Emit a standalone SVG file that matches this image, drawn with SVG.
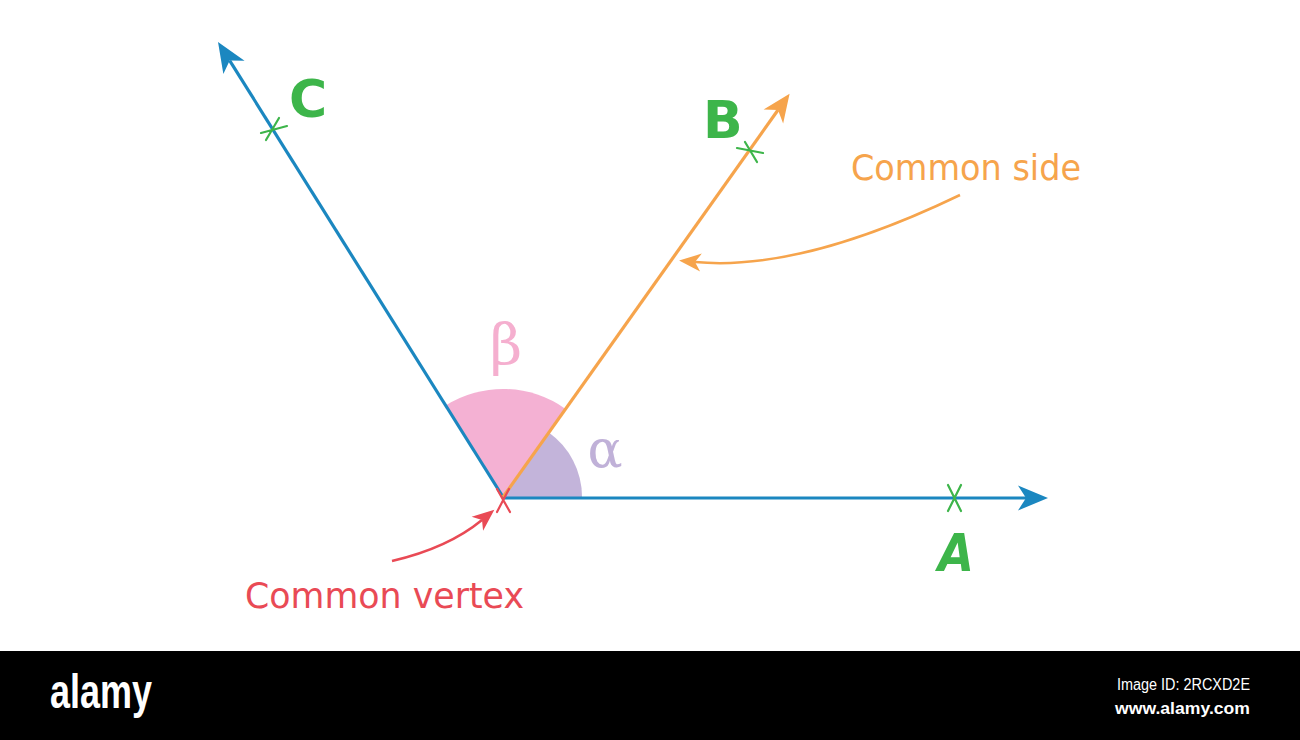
<svg xmlns="http://www.w3.org/2000/svg" width="1300" height="740" viewBox="0 0 1300 740">
<style>
.ray{fill:none;stroke-width:3.2;stroke-linecap:butt}
.blue{stroke:#1b87c0}
.orange{stroke:#f6a44c}
.tick{stroke:#3db54a;stroke-width:2.2;stroke-linecap:round;fill:none}
.pt{font-family:"DejaVu Sans","Noto Sans",sans-serif;font-weight:bold;fill:#3db54a}
.callout{font-family:"DejaVu Sans","Noto Sans",sans-serif}
.greek{font-family:"DejaVu Serif","Liberation Serif",serif}
</style>
<defs>
<marker id="ahBlue" markerUnits="userSpaceOnUse" markerWidth="32" markerHeight="28" viewBox="0 -13 32 26" refX="8" refY="0" orient="auto">
<path d="M0,-12.5 L30,0 L0,12.5 L8,0 z" fill="#1b87c0"/>
</marker>
<marker id="ahOrange" markerUnits="userSpaceOnUse" markerWidth="32" markerHeight="28" viewBox="0 -13 32 26" refX="8" refY="0" orient="auto">
<path d="M0,-12 L28,0 L0,12 L8,0 z" fill="#f6a44c"/>
</marker>
<marker id="ahOrangeS" markerUnits="userSpaceOnUse" markerWidth="26" markerHeight="22" viewBox="0 -10 26 20" refX="6" refY="0" orient="auto">
<path d="M0,-9 L22,0 L0,9 L6,0 z" fill="#f6a44c"/>
</marker>
<marker id="ahRed" markerUnits="userSpaceOnUse" markerWidth="26" markerHeight="22" viewBox="0 -10 26 20" refX="6" refY="0" orient="auto">
<path d="M0,-9 L22,0 L0,9 L6,0 z" fill="#e94a55"/>
</marker>
</defs>
<rect x="0" y="0" width="1300" height="740" fill="#ffffff"/>

<g id="angles">
<path id="beta-sector" d="M503,497 L565.6,408.9 A108,108 0 0 0 445.6,405.5 Z" fill="#f4b1d3"/>
<path id="alpha-sector" d="M503,497 L582,497 A79,79 0 0 0 548.8,432.6 Z" fill="#c3b4da"/>
</g>

<g id="connectors">
<line id="ray-A" class="ray blue" x1="503" y1="498" x2="1026" y2="498" marker-end="url(#ahBlue)"/>
<line id="ray-C" class="ray blue" x1="503" y1="497" x2="229.7" y2="60.6" marker-end="url(#ahBlue)"/>
<line id="ray-B" class="ray orange" x1="503" y1="497" x2="778" y2="110" marker-end="url(#ahOrange)"/>
<path id="side-callout" d="M960,195 Q800,272 695,262" fill="none" stroke="#f6a44c" stroke-width="2.5" marker-end="url(#ahOrangeS)"/>
<path id="vertex-callout" d="M392,561 Q448,548 482,520" fill="none" stroke="#e94a55" stroke-width="2.5" marker-end="url(#ahRed)"/>
</g>

<g id="vertex">
<path d="M497,489 L510,512 M509,489 L497,512" stroke="#e94a55" stroke-width="2.2" fill="none" stroke-linecap="round"/>
</g>

<g id="point-C">
<path class="tick" d="M261,133 L287,126 M279,118 L266,140"/>
<text class="pt" x="289" y="117" font-size="52">C</text>
</g>
<g id="point-B">
<path class="tick" d="M737,148 L763,153 M745,142 L757,162"/>
<text class="pt" x="703" y="138" font-size="52">B</text>
</g>
<g id="point-A">
<path class="tick" d="M948,485 L961,511 M961,485 L948,511"/>
<text class="pt" x="938" y="571" font-size="52" font-style="italic" textLength="36" lengthAdjust="spacingAndGlyphs">A</text>
</g>

<g id="label-beta">
<text class="greek" x="506" y="364" font-size="56" fill="#f5afcf" text-anchor="middle">β</text>
</g>
<g id="label-alpha">
<text class="greek" x="605" y="467" font-size="52" fill="#c0b1d8" text-anchor="middle">α</text>
</g>

<g id="label-common-side">
<text class="callout" x="851" y="180" font-size="36" fill="#f6a44c" textLength="230" lengthAdjust="spacingAndGlyphs">Common side</text>
</g>
<g id="label-common-vertex">
<text class="callout" x="245" y="608" font-size="36" fill="#e94a55" textLength="279" lengthAdjust="spacingAndGlyphs">Common vertex</text>
</g>

<g id="footer">
<rect x="0" y="651" width="1300" height="89" fill="#000000"/>
<text x="50" y="708" font-family="Liberation Sans, Arial, sans-serif" font-weight="bold" font-size="48" fill="#ffffff" textLength="102" lengthAdjust="spacingAndGlyphs">alamy</text>
<text x="1250" y="690" font-family="Liberation Sans, Arial, sans-serif" font-size="16" fill="#ffffff" text-anchor="end" textLength="133" lengthAdjust="spacingAndGlyphs">Image ID: 2RCXD2E</text>
<text x="1250" y="714" font-family="Liberation Sans, Arial, sans-serif" font-weight="bold" font-size="17" fill="#ffffff" text-anchor="end" textLength="135" lengthAdjust="spacingAndGlyphs">www.alamy.com</text>
</g>
</svg>
